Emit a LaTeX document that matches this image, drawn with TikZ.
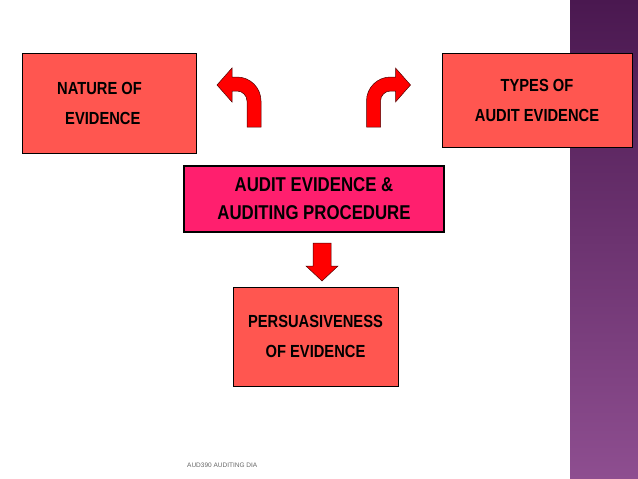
\documentclass[tikz,border=0pt]{standalone}
\usepackage{fontspec}
\setmainfont{Liberation Sans}
\newfontfamily\narrowfont[FakeStretch=0.84]{Liberation Sans}
\definecolor{boxred}{HTML}{FF5650}
\definecolor{boxmag}{HTML}{FF1F6E}
\definecolor{arrred}{HTML}{FF0000}
\definecolor{ptop}{HTML}{4A1850}
\definecolor{pbot}{HTML}{8E4E90}
\begin{document}
\begin{tikzpicture}[x=1pt,y=-1pt,
  box/.style={draw=black,line width=0.8pt,fill=boxred,align=center,font=\narrowfont\bfseries\fontsize{17.5}{30}\selectfont,inner sep=0pt},
  bent/.style={fill=arrred,draw=black!70!red,line width=0.5pt}]
\useasboundingbox (0,0) rectangle (638,479);
\fill[white] (0,0) rectangle (638,479);
\shade[top color=ptop,bottom color=pbot] (570,0) rectangle (638,479);
\node[box,minimum width=174,minimum height=100] (nature) at (109,103) {};
\node[align=left,font=\narrowfont\bfseries\fontsize{17.5}{30}\selectfont,inner sep=0pt,anchor=west] (naturet) at (57,103) {NATURE OF\\\hspace{8pt}EVIDENCE};
\node[box,minimum width=190,minimum height=94] (types) at (537,100) {TYPES OF\\AUDIT EVIDENCE};
\node[box,fill=boxmag,line width=2pt,minimum width=260,minimum height=66,font=\narrowfont\bfseries\fontsize{20}{28}\selectfont] (main) at (314,199) {AUDIT EVIDENCE \&\\AUDITING PROCEDURE};
\node[box,minimum width=165,minimum height=99] (pers) at (315.5,336.5) {PERSUASIVENESS\\OF EVIDENCE};
\draw[bent] (247,127) -- (247,101) arc[start angle=0,end angle=-90,radius=10] -- (232,91) -- (232,102) -- (217,85) -- (232,68) -- (232,77) -- (237,77) arc[start angle=-90,end angle=0,radius=24] -- (261,127) -- cycle;
\begin{scope}[xshift=627.5pt,x=-1pt]
\draw[bent] (247,127) -- (247,101) arc[start angle=0,end angle=-90,radius=10] -- (232,91) -- (232,102) -- (217,85) -- (232,68) -- (232,77) -- (237,77) arc[start angle=-90,end angle=0,radius=24] -- (261,127) -- cycle;
\end{scope}
\draw[bent] (313,243) -- (331,243) -- (331,266) -- (338,266) -- (322,281) -- (306,266) -- (313,266) -- cycle;
\node[anchor=west,text=black!60,font=\fontsize{6.5}{8}\selectfont,inner sep=0pt] (foot) at (187,465) {AUD390 AUDITING DIA};
\end{tikzpicture}
\end{document}
